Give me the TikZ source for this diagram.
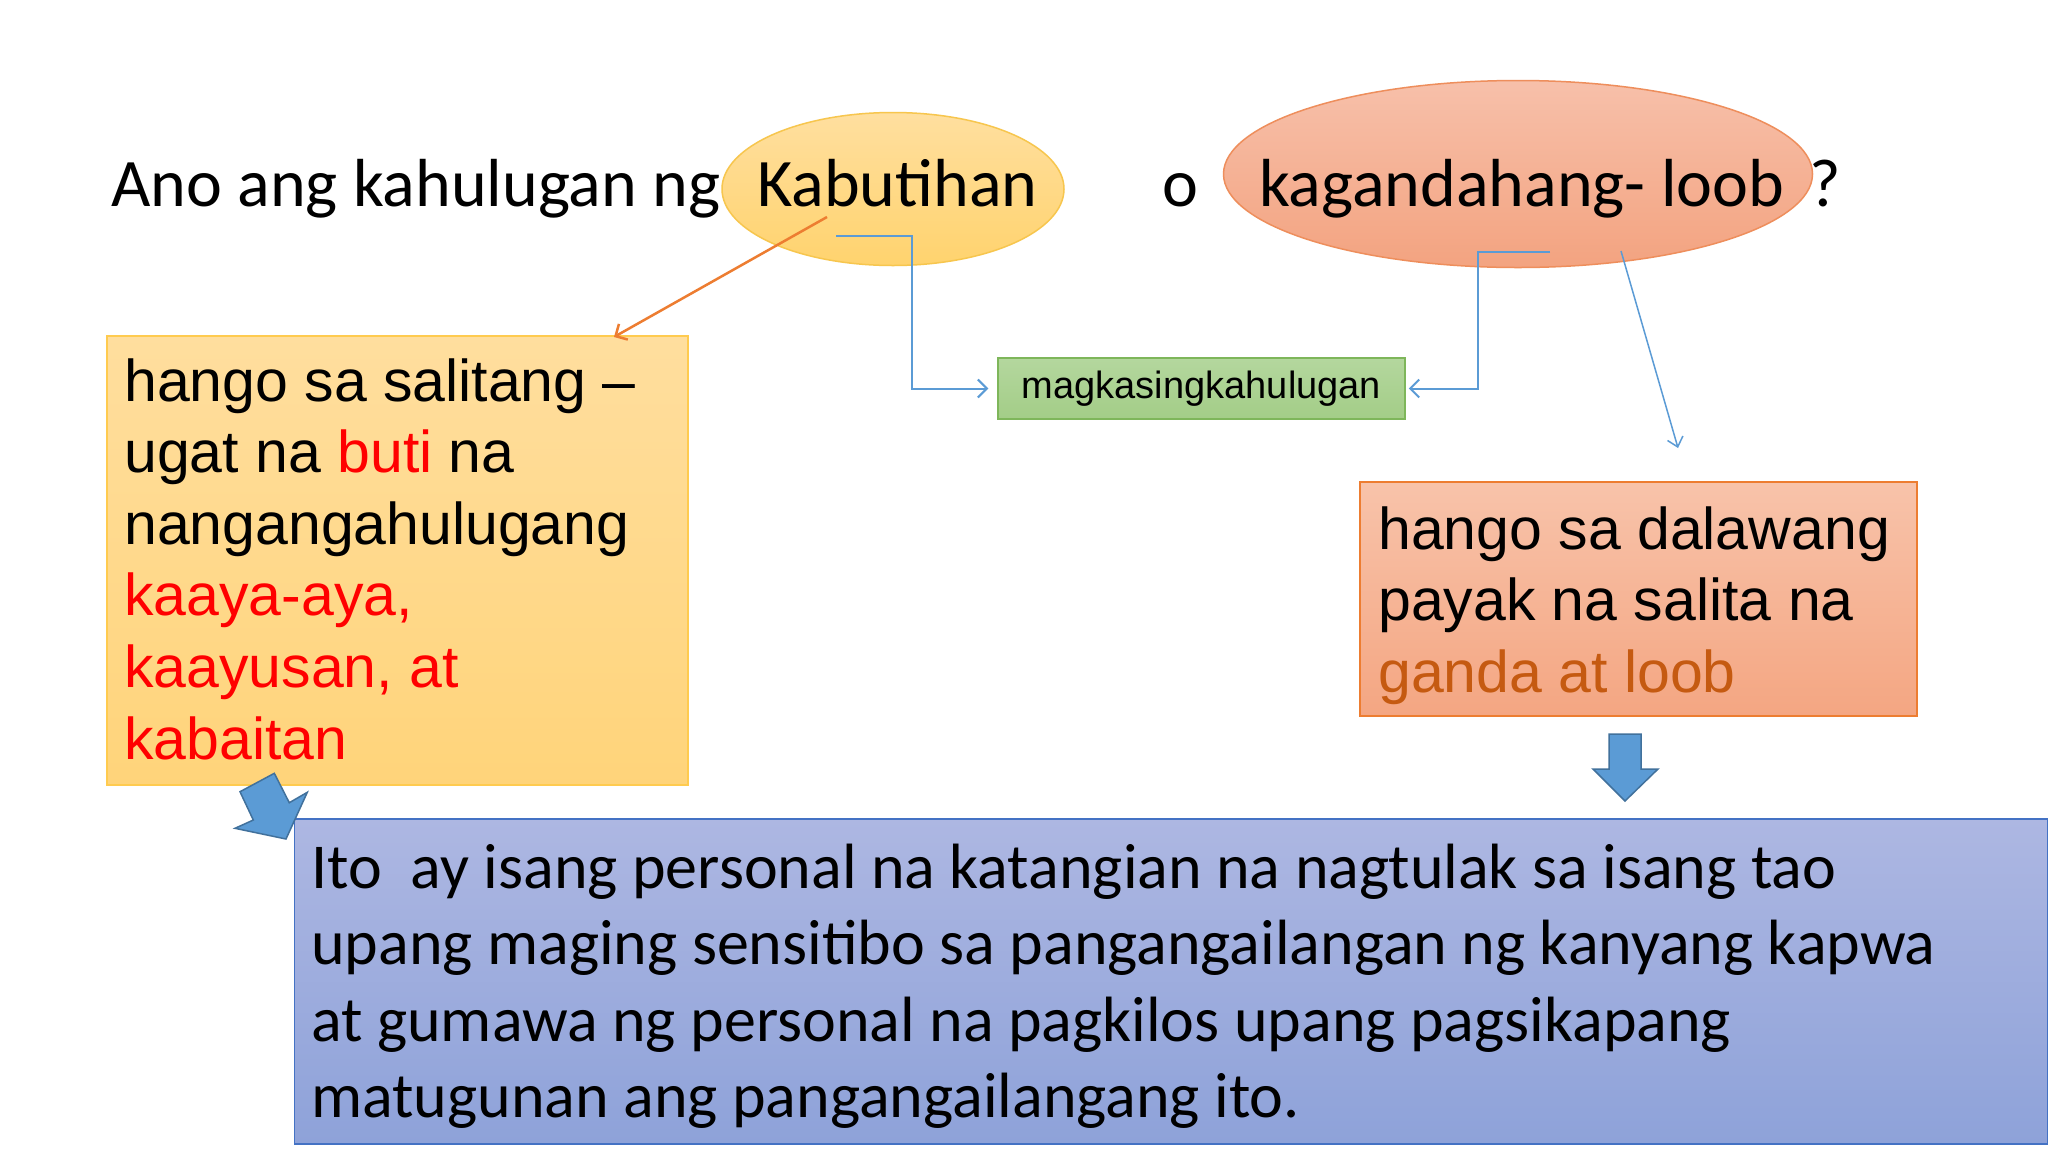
\documentclass[tikz,border=0pt]{standalone}
\usepackage{fontspec}
\setmainfont{Carlito}
\newfontfamily\arialf{Liberation Sans}
\usetikzlibrary{arrows.meta,shapes.geometric}
\definecolor{kabTop}{HTML}{FFDF9F}
\definecolor{kabBot}{HTML}{FFD36E}
\definecolor{kabLine}{HTML}{F7C64E}
\definecolor{kagTop}{HTML}{F7C0AA}
\definecolor{kagBot}{HTML}{F3A380}
\definecolor{kagLine}{HTML}{EE8E5C}
\definecolor{lTop}{HTML}{FFDE9E}
\definecolor{lBot}{HTML}{FFD47A}
\definecolor{lLine}{HTML}{FFCB4F}
\definecolor{rTop}{HTML}{F8C3AA}
\definecolor{rBot}{HTML}{F4A682}
\definecolor{rLine}{HTML}{ED7D31}
\definecolor{gTop}{HTML}{B4D79E}
\definecolor{gBot}{HTML}{A3CD87}
\definecolor{gLine}{HTML}{7EB65A}
\definecolor{bTop}{HTML}{ADB7E2}
\definecolor{bBot}{HTML}{8EA2D9}
\definecolor{bLine}{HTML}{4472C4}
\definecolor{arrFill}{HTML}{5B9BD5}
\definecolor{arrLine}{HTML}{41719C}
\definecolor{conBlue}{HTML}{5B9BD5}
\definecolor{conOrange}{HTML}{ED7D31}
\definecolor{txtOrange}{HTML}{C55A11}
\definecolor{txtRed}{HTML}{FF0000}
\begin{document}
\begin{tikzpicture}[x=1pt,y=-1pt,
  titletext/.style={anchor=base west,inner sep=0pt,font=\fontsize{68}{82}\selectfont},
  boxtext/.style={anchor=base west,inner sep=0pt,align=left,font=\arialf\fontsize{59}{71.6}\selectfont},
  bluecon/.style={draw=conBlue,line width=2pt,-{Straight Barb[length=9pt,width=18pt,line width=2pt]}},
  blockarrow/.style={fill=arrFill,draw=arrLine,line width=1.5pt,line join=miter}
]
\useasboundingbox (0,0) rectangle (2048,1152);
\fill[white] (0,0) rectangle (2048,1152);

% ellipses
\node[ellipse,draw=kabLine,line width=1.5pt,top color=kabTop,bottom color=kabBot,
      minimum width=342pt,minimum height=153pt,inner sep=0pt] (kab) at (893,189) {};
\node[ellipse,draw=kagLine,line width=1.5pt,top color=kagTop,bottom color=kagBot,
      minimum width=589pt,minimum height=187pt,inner sep=0pt] (kag) at (1518,174) {};

% title texts
\node[titletext] (title) at (111,206) {Ano ang kahulugan ng};
\node[titletext] (kabtxt) at (757,206) {Kabutihan};
\node[titletext] (otxt) at (1162,206) {o};
\node[titletext] (kagtxt) at (1259,206) {kagandahang- loob};
\node[titletext] (qtxt) at (1809,206) {?};

% boxes
\node[draw=lLine,line width=1.5pt,top color=lTop,bottom color=lBot,
      minimum width=581pt,minimum height=449pt,inner sep=0pt] (lbox) at (397.5,560.5) {};
\node[draw=rLine,line width=1.5pt,top color=rTop,bottom color=rBot,
      minimum width=557pt,minimum height=234pt,inner sep=0pt] (rbox) at (1638.5,599) {};
\node[draw=gLine,line width=1.5pt,top color=gTop,bottom color=gBot,
      minimum width=407pt,minimum height=61pt,inner sep=0pt,
      font=\arialf\fontsize{38}{46}\selectfont] (mag) at (1201.5,388.5) {magkasingkahulugan};
\node[draw=bLine,line width=1.5pt,top color=bTop,bottom color=bBot,
      minimum width=1753pt,minimum height=325pt,inner sep=0pt] (bbox) at (1171,981.5) {};

% box texts
\node[boxtext,text width=560pt] (ltxt) at (124,401) {\spaceskip=0pt\relax hango sa salitang –\\
ugat na \textcolor{txtRed}{buti} na\\
nangangahulugang\\
\textcolor{txtRed}{kaaya-aya,}\\
\textcolor{txtRed}{kaayusan, at}\\
\textcolor{txtRed}{kabaitan}};
\node[boxtext,text width=540pt] (rtxt) at (1378,549) {\spaceskip=0pt\relax hango sa dalawang\\
payak na salita na\\
\textcolor{txtOrange}{ganda at loob}};
\node[anchor=base west,inner sep=0pt,align=left,text width=1720pt,
      font=\fontsize{64}{76.5}\selectfont] (btxt) at (311,888) {\spaceskip=0pt\relax Ito\ \ ay isang personal na katangian na nagtulak sa isang tao\\
upang maging sensitibo sa pangangailangan ng kanyang kapwa\\
at gumawa ng personal na pagkilos upang pagsikapang\\
matugunan ang pangangailangang ito.};

% connectors
\coordinate (o1) at (827,217);
\coordinate (o2) at (614,337);
\draw[draw=conOrange,line width=2.5pt,-{Straight Barb[length=9pt,width=18pt,line width=2.5pt]}] (o1) -- (o2);

\coordinate (kabA) at (836,236);
\coordinate (kabB) at (912,236);
\draw[bluecon] (kabA) -- (kabB) |- ([xshift=-9pt]mag.west);

\coordinate (kagA) at (1550,252);
\coordinate (kagB) at (1478,252);
\draw[bluecon] (kagA) -- (kagB) |- ([xshift=3pt]mag.east);

\coordinate (kagC) at (1621,251);
\coordinate (rtop) at (1678,448);
\draw[draw=conBlue,line width=1.5pt,-{Straight Barb[length=9pt,width=16pt,line width=1.5pt]}] (kagC) -- (rtop);

% block arrows
\draw[blockarrow] (1609,734) -- (1641,734) -- (1641,769) -- (1658,769) -- (1625,801)
   -- (1593,769) -- (1609,769) -- cycle;
\draw[blockarrow] (274.3,773.3) -- (289.3,802.7) -- (307.3,792.3) -- (286,839)
   -- (235,828.3) -- (253.3,820) -- (240,791.7) -- cycle;
\end{tikzpicture}
\end{document}
